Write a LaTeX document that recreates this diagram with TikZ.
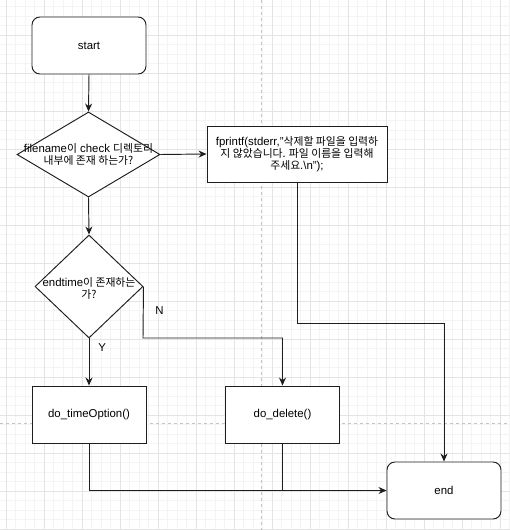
\documentclass[tikz,border=0pt]{standalone}
\usepackage{fontspec}
\setmainfont{Liberation Sans}
\newfontfamily\kr[Scale=0.95]{Noto Sans CJK KR}
\usetikzlibrary{shapes.geometric,arrows.meta}
\definecolor{gridminor}{HTML}{F4F4F4}
\definecolor{gridmajor}{HTML}{E4E4E4}
\definecolor{pagebreak}{HTML}{C4C4C4}
\definecolor{ink}{HTML}{1E1E1E}
\tikzset{
  every node/.style={font=\fontsize{11.4}{12}\selectfont, text=black},
  termbox/.style={draw=ink, line width=0.95pt, rounded corners=8pt, fill=white, minimum width=114pt, minimum height=57pt, inner sep=0pt},
  procbox/.style={draw=ink, line width=0.95pt, fill=white, minimum width=114pt, minimum height=57pt, inner sep=0pt},
  decision/.style={draw=ink, line width=0.95pt, fill=white, diamond, inner sep=0pt},
  txt/.style={align=center, inner sep=0pt},
  flow/.style={draw=ink, line width=0.95pt, -{Stealth[length=8pt,width=7pt]}},
  plain/.style={draw=ink, line width=0.95pt},
}
\begin{document}
\begin{tikzpicture}[x=1pt,y=-1pt]
\useasboundingbox (0,0) rectangle (510,530);
\fill[white] (0,0) rectangle (510,530);
% grid
\foreach \i in {0,...,55} {
  \draw[gridminor, line width=0.6pt] ({-3.5+9.5*\i},0) -- ({-3.5+9.5*\i},530);
}
\foreach \i in {0,...,57} {
  \draw[gridminor, line width=0.6pt] (0,{-3+9.5*\i}) -- (510,{-3+9.5*\i});
}
\foreach \i in {0,...,13} {
  \draw[gridmajor, line width=0.8pt] ({6+38*\i},0) -- ({6+38*\i},530);
}
\foreach \i in {0,...,14} {
  \draw[gridmajor, line width=0.8pt] (0,{-3+38*\i}) -- (510,{-3+38*\i});
}
\draw[pagebreak, line width=0.8pt, dash pattern=on 3pt off 3pt] (261,0) -- (261,530);
\draw[pagebreak, line width=0.8pt, dash pattern=on 3pt off 3pt] (0,423) -- (510,423);

% nodes
\node[termbox] (start) at (89,45.5) {start};
\node[decision, minimum width=143pt, minimum height=85pt] (d1) at (88.5,154.5) {};
\node[txt] (d1t) at (88.5,154) {filename{\kr 이} check {\kr 디렉토리}\\{\kr 내부에 존재 하는가?}};
\node[procbox, minimum width=180pt, minimum height=56pt] (msg) at (297,154) {};
\node[txt] (msgt) at (297,154.5) {fprintf(stderr,"{\kr 삭제할 파일을 입력하}\\{\kr 지 않았습니다. 파일 이름을 입력해}\\{\kr 주세요}.\textbackslash n");};
\node[decision, minimum width=108pt, minimum height=103pt] (d2) at (89,286.5) {};
\node[txt] (d2t) at (89,288) {endtime{\kr 이 존재하는}\\{\kr 가?}};
\node[procbox] (opt) at (89,414.5) {do\_timeOption()};
\node[procbox] (del) at (282.5,414.5) {do\_delete()};
\node[termbox] (end) at (444,490.5) {end};

\coordinate (b1) at (444,323);
\coordinate (nb) at (143,338);

% connectors
\draw[flow] (start.south) -- (d1.north);
\draw[flow] (d1.east) -- (msg.west);
\draw[flow] (msg.south) |- (b1) -- (end.north);
\draw[flow] (d1.south) -- (d2.north);
\draw[flow] (d2.south) -- node[pos=0.2, right=9pt, inner sep=0pt] (ylab) {Y} (opt.north);
\draw[flow] (d2.east) -- (nb) -| (del.north);
\node[inner sep=0pt] (nlab) at (159.5,311) {N};
\draw[flow] (opt.south) |- (end.west);
\draw[plain] (del.south) -- (del.south |- end.west);
\end{tikzpicture}
\end{document}
